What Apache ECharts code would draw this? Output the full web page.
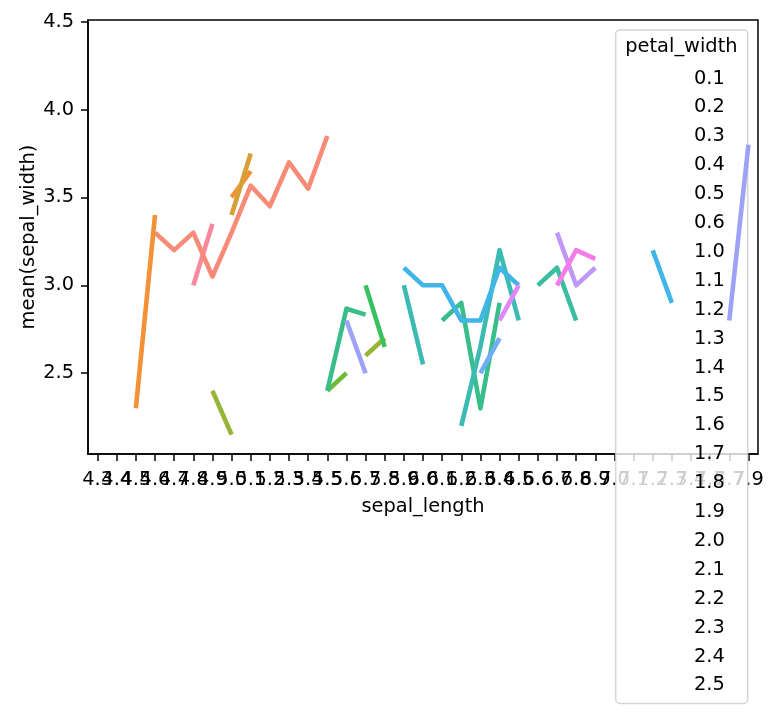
<!DOCTYPE html>
<html><head><meta charset="utf-8">
<script src="https://cdn.jsdelivr.net/npm/echarts@6/dist/echarts.min.js"></script>
<style>html,body{margin:0;padding:0;background:#fff}#c{width:778px;height:718px}</style>
</head><body><div id="c"></div>
<script>
// x categories (sepal_length)
const sepalLength = ["4.3","4.4","4.5","4.6","4.7","4.8","4.9","5.0","5.1","5.2","5.3","5.4","5.5","5.6","5.7","5.8","5.9","6.0","6.1","6.2","6.3","6.4","6.5","6.6","6.7","6.8","6.9","7.0","7.1","7.2","7.3","7.4","7.6","7.7","7.9"];
// hue levels (petal_width)
const petalWidthLevels = ["0.1","0.2","0.3","0.4","0.5","0.6","1.0","1.1","1.2","1.3","1.4","1.5","1.6","1.7","1.8","1.9","2.0","2.1","2.2","2.3","2.4","2.5"];
// mean(sepal_width) per sepal_length, visible line segments only
const pw_0_1 = [["4.8",3.0],["4.9",3.35]];
const pw_0_2 = [["4.6",3.3],["4.7",3.2],["4.8",3.3],["4.9",3.05],["5.0",3.3],["5.1",3.567],["5.2",3.45],["5.3",3.7],["5.4",3.55],["5.5",3.85]];
const pw_0_3 = [["4.5",2.3],["4.6",3.4],["5.0",3.5],["5.1",3.65]];
const pw_0_4 = [["5.0",3.4],["5.1",3.75]];
const pw_0_5 = [];
const pw_0_6 = [];
const pw_1_0 = [["4.9",2.4],["5.0",2.15],["5.7",2.6],["5.8",2.7]];
const pw_1_1 = [["5.5",2.4],["5.6",2.5]];
const pw_1_2 = [["5.7",3.0],["5.8",2.65]];
const pw_1_3 = [["5.5",2.4],["5.6",2.867],["5.7",2.833],["6.1",2.8],["6.2",2.9],["6.3",2.3],["6.4",2.9]];
const pw_1_4 = [["6.6",3.0],["6.7",3.1],["6.8",2.8]];
const pw_1_5 = [["5.9",3.0],["6.0",2.55],["6.2",2.2],["6.3",2.65],["6.4",3.2],["6.5",2.8]];
const pw_1_6 = [];
const pw_1_7 = [];
const pw_1_8 = [["5.9",3.1],["6.0",3.0],["6.1",3.0],["6.2",2.8],["6.3",2.8],["6.4",3.1],["6.5",3.0],["7.2",3.2],["7.3",2.9]];
const pw_1_9 = [["6.3",2.5],["6.4",2.7]];
const pw_2_0 = [["5.6",2.8],["5.7",2.5],["7.7",2.8],["7.9",3.8]];
const pw_2_1 = [["6.7",3.3],["6.8",3.0],["6.9",3.1]];
const pw_2_2 = [["6.4",2.8],["6.5",3.0]];
const pw_2_3 = [["6.7",3.0],["6.8",3.2],["6.9",3.15]];
const pw_2_4 = [];
const pw_2_5 = [];
const yTicks = [2.5, 3.0, 3.5, 4.0, 4.5];

const hueSeries = [pw_0_1,pw_0_2,pw_0_3,pw_0_4,pw_0_5,pw_0_6,pw_1_0,pw_1_1,pw_1_2,pw_1_3,pw_1_4,pw_1_5,pw_1_6,pw_1_7,pw_1_8,pw_1_9,pw_2_0,pw_2_1,pw_2_2,pw_2_3,pw_2_4,pw_2_5];

// --- HUSL palette ---
const M = [[3.2406,-1.5372,-0.4986],[-0.9689,1.8758,0.0415],[0.0557,-0.2040,1.0570]];
const refY = 1.0, refU = 0.19784, refV = 0.46834, labK = 903.3;
function maxChroma(L, H) {
  const hr = H / 180 * Math.PI, sinH = Math.sin(hr), cosH = Math.cos(hr);
  const sub1 = Math.pow(L + 16, 3) / 1560896.0;
  const sub2 = sub1 > 0.008856 ? sub1 : L / 903.3;
  let result = Infinity;
  for (const [m1, m2, m3] of M) {
    const top = (0.99915 * m1 + 1.05122 * m2 + 1.14460 * m3) * sub2;
    const rb = 0.86330 * m3 - 0.17266 * m2;
    const lb = 0.12949 * m3 - 0.38848 * m1;
    const bottom = (rb * sinH + lb * cosH) * sub2;
    for (const t of [0, 1]) {
      const C = L * (top - 1.05122 * t) / (bottom + 0.17266 * sinH * t);
      if (C > 0 && C < result) result = C;
    }
  }
  return result;
}
function fInv(t) { return t > 8 ? refY * Math.pow((t + 16) / 116, 3) : refY * t / labK; }
function fromLinear(c) { return c <= 0.0031308 ? 12.92 * c : 1.055 * Math.pow(c, 1 / 2.4) - 0.055; }
function huslToHex(H, S, L) {
  const C = maxChroma(L, H) / 100 * S;
  const hr = H / 180 * Math.PI;
  const U = Math.cos(hr) * C, V = Math.sin(hr) * C;
  const varY = fInv(L);
  const varU = U / (13 * L) + refU, varV = V / (13 * L) + refV;
  const Y = varY * refY;
  const X = 0 - (9 * Y * varU) / ((varU - 4) * varV - varU * varV);
  const Z = (9 * Y - 15 * varV * Y - varV * X) / (3 * varV);
  const rgb = M.map(r => fromLinear(r[0] * X + r[1] * Y + r[2] * Z));
  return '#' + rgb.map(v => {
    const x = Math.round(Math.min(1, Math.max(0, v)) * 255);
    return x.toString(16).padStart(2, '0');
  }).join('');
}
const nH = petalWidthLevels.length;
const palette = petalWidthLevels.map((_, i) => {
  const h = (i / nH + 0.01) % 1;
  return huslToHex(h * 359, 0.9 * 99, 0.7 * 99);
});

const FONT = 'DejaVu Sans';
const FS = 19.4;

const series = petalWidthLevels.map((lvl, i) => {
  const lookup = {};
  hueSeries[i].forEach(([x, y]) => { lookup[x] = y; });
  return {
    name: lvl,
    type: 'line',
    data: sepalLength.map(x => (x in lookup ? lookup[x] : null)),
    showSymbol: false,
    symbol: 'none',
    connectNulls: false,
    lineStyle: { color: palette[i], width: 4.6, cap: 'butt', join: 'round' },
    itemStyle: { color: palette[i] },
    emphasis: { disabled: true },
    z: 2
  };
});

const chart = echarts.init(document.getElementById('c'), null, { renderer: 'canvas' });
chart.setOption({
  animation: false,
  backgroundColor: '#fff',
  grid: { left: 88, right: 20, top: 20, bottom: 264, show: true, borderColor: '#000', borderWidth: 1.5, backgroundColor: 'transparent' },
  xAxis: {
    type: 'category',
    data: sepalLength,
    boundaryGap: true,
    name: 'sepal_length',
    nameLocation: 'middle',
    nameGap: 43,
    nameMoveOverlap: false,
    nameTextStyle: { fontFamily: FONT, fontSize: FS, color: '#000' },
    axisLine: { show: true, lineStyle: { color: '#000', width: 1.5 } },
    axisTick: { show: true, alignWithLabel: true, length: 7, lineStyle: { color: '#000', width: 1.5 } },
    axisLabel: { interval: 0, margin: 16, fontFamily: FONT, fontSize: FS, color: '#000', hideOverlap: false },
    splitLine: { show: false }
  },
  yAxis: {
    type: 'value',
    min: 2.04,
    max: 4.51,
    name: 'mean(sepal_width)',
    nameLocation: 'middle',
    nameGap: 50,
    nameMoveOverlap: false,
    nameRotate: 90,
    nameTextStyle: { fontFamily: FONT, fontSize: FS, color: '#000' },
    axisLine: { show: true, lineStyle: { color: '#000', width: 1.5 } },
    axisTick: { show: true, length: 7, customValues: yTicks, lineStyle: { color: '#000', width: 1.5 } },
    axisLabel: { margin: 14, fontFamily: FONT, fontSize: FS, color: '#000', customValues: yTicks, formatter: v => Number(v).toFixed(1) },
    splitLine: { show: false }
  },
  legend: {
    orient: 'vertical',
    left: 664,
    top: 69,
    height: 645,
    padding: 0,
    itemWidth: 25,
    itemHeight: 14,
    itemGap: 9.9,
    icon: 'rect',
    itemStyle: { color: 'rgba(0,0,0,0)', borderWidth: 0 },
    lineStyle: { opacity: 0 },
    selectedMode: false,
    data: petalWidthLevels,
    textStyle: { fontFamily: FONT, fontSize: FS, color: '#000' },
    z: 6
  },
  graphic: [
    {
      type: 'rect', z: 1, silent: true,
      shape: { x: 615.7, y: 30, width: 132, height: 673.5, r: 4 },
      style: { fill: 'rgba(255,255,255,0.8)', stroke: 'rgba(204,204,204,0.8)', lineWidth: 1.5 }
    },
    {
      type: 'text', z: 7, silent: true,
      x: 681.4, y: 46.7,
      style: { text: 'petal_width', fill: '#000', font: FS + 'px "' + FONT + '"', textAlign: 'center', textVerticalAlign: 'middle' }
    }
  ],
  series: series
});
</script></body></html>
